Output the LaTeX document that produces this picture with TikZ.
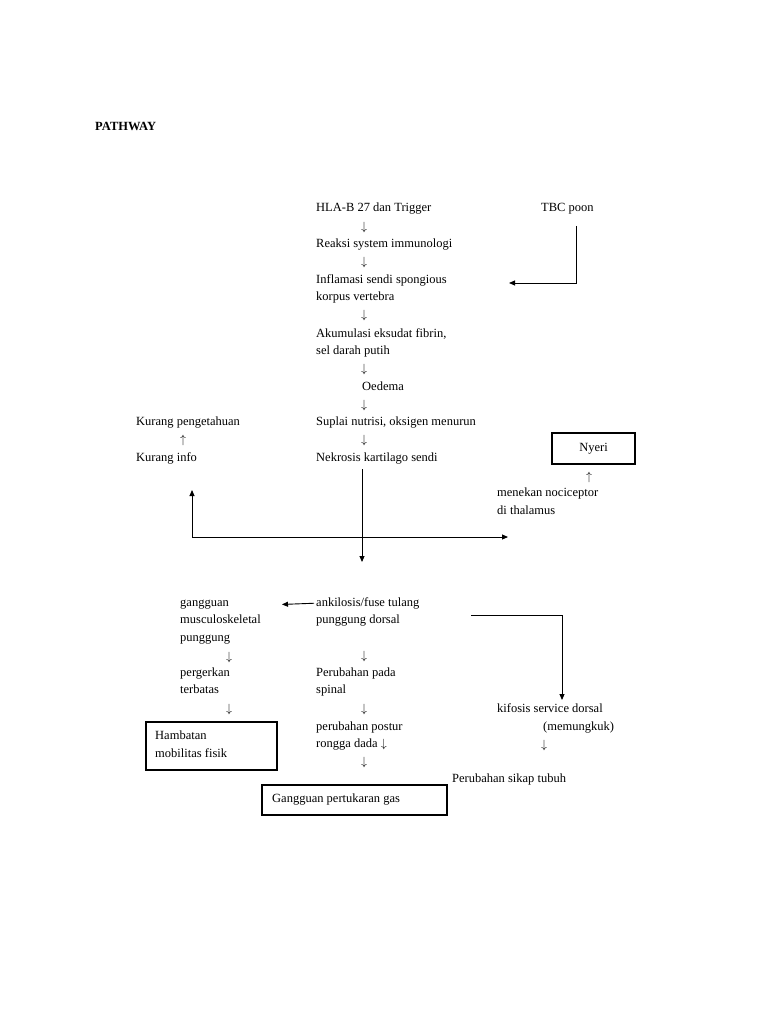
\documentclass[tikz,border=0pt]{standalone}
\usepackage{fontspec}
\setmainfont{Liberation Serif}
\usetikzlibrary{arrows.meta}
\begin{document}
\begin{tikzpicture}[x=1pt,y=-1pt,
 t/.style={anchor=mid west,inner sep=0pt,font=\fontsize{12.5}{15}\selectfont},
 box/.style={draw,line width=1.2pt},
 ar/.style={-{Triangle[length=6pt,width=5pt]},line width=0.9pt}]
\useasboundingbox (0,0) rectangle (768,1024);
\node[t,font=\fontsize{12.5}{15}\selectfont\bfseries] (pw) at (95,128) {PATHWAY};
\node[t] (hla) at (316,209) {HLA-B 27 dan Trigger};
\node[t] (tbc) at (541,209) {TBC poon};
\node[t] (d1) at (361,228) {$\downarrow$};
\node[t] (rs) at (316,245) {Reaksi system immunologi};
\node[t] (d2) at (361,263) {$\downarrow$};
\node[t] (inf) at (316,281) {Inflamasi sendi spongious};
\node[t] (kor) at (316,298) {korpus vertebra};
\node[t] (d3) at (361,316) {$\downarrow$};
\node[t] (ak) at (316,335) {Akumulasi eksudat fibrin,};
\node[t] (sel) at (316,352) {sel darah putih};
\node[t] (d4) at (361,370) {$\downarrow$};
\node[t] (oe) at (362,388) {Oedema};
\node[t] (d5) at (361,406) {$\downarrow$};
\node[t] (sup) at (316,423) {Suplai nutrisi, oksigen menurun};
\node[t] (d6) at (361,441) {$\downarrow$};
\node[t] (nek) at (316,459) {Nekrosis kartilago sendi};
\node[t] (kp) at (136,423) {Kurang pengetahuan};
\node[t] (u1) at (180,441) {$\uparrow$};
\node[t] (ki) at (136,459) {Kurang info};
\node[box,minimum width=83pt,minimum height=31pt,inner sep=0pt,font=\fontsize{12.5}{15}\selectfont] (ny) at (593.5,448.5) {Nyeri};
\node[t] (u2) at (586,478) {$\uparrow$};
\node[t] (men) at (497,494) {menekan nociceptor};
\node[t] (dit) at (497,512) {di thalamus};
\coordinate (c1) at (576,226);
\coordinate (c2) at (576,283);
\coordinate (c3) at (509,283);
\draw[ar] (c1) -- (c2) -- (c3);
\coordinate (n1) at (362,469);
\coordinate (n2) at (362,562);
\draw[ar] (n1) -- (n2);
\coordinate (h1) at (192,537);
\coordinate (h2) at (508,537);
\coordinate (h0) at (192,490);
\draw[ar] (h1) -- (h2);
\draw[ar] (h1) -- (h0);
\node[t] (gg) at (180,604) {gangguan};
\node[t] (mus) at (180,621) {musculoskeletal};
\node[t] (pun) at (180,639) {punggung};
\node[t] (d7) at (226,658) {$\downarrow$};
\node[t] (per) at (180,674) {pergerkan};
\node[t] (ter) at (180,691) {terbatas};
\node[t] (d8) at (226,710) {$\downarrow$};
\draw[box] (146,722) rectangle (277,770);
\node[t] (hb) at (155,737) {Hambatan};
\node[t] (mob) at (155,755) {mobilitas fisik};
\node[t] (ank) at (316,604) {ankilosis/fuse tulang};
\node[t] (pd) at (316,621) {punggung dorsal};
\draw[ar] (ank.west) ++(-2,0) coordinate (a1) -- (gg.east -| 282,0);
\node[t] (d9) at (361,657) {$\downarrow$};
\node[t] (pps) at (316,674) {Perubahan pada};
\node[t] (sp) at (316,691) {spinal};
\node[t] (d10) at (361,710) {$\downarrow$};
\node[t] (pp) at (316,728) {perubahan postur};
\node[t] (rd) at (316,745) {rongga dada $\downarrow$};
\node[t] (d11) at (361,763) {$\downarrow$};
\draw[box] (262,785) rectangle (447,815);
\node[t] (gpg) at (272,800) {Gangguan pertukaran gas};
\coordinate (k1) at (471,615);
\coordinate (k2) at (562,615);
\coordinate (k3) at (562,700);
\draw[ar] (k1) -- (k2) -- (k3);
\node[t] (kif) at (497,710) {kifosis service dorsal};
\node[t] (mem) at (543,728) {(memungkuk)};
\node[t] (d12) at (541,746) {$\downarrow$};
\node[t] (pst) at (452,780) {Perubahan sikap tubuh};
\end{tikzpicture}
\end{document}
